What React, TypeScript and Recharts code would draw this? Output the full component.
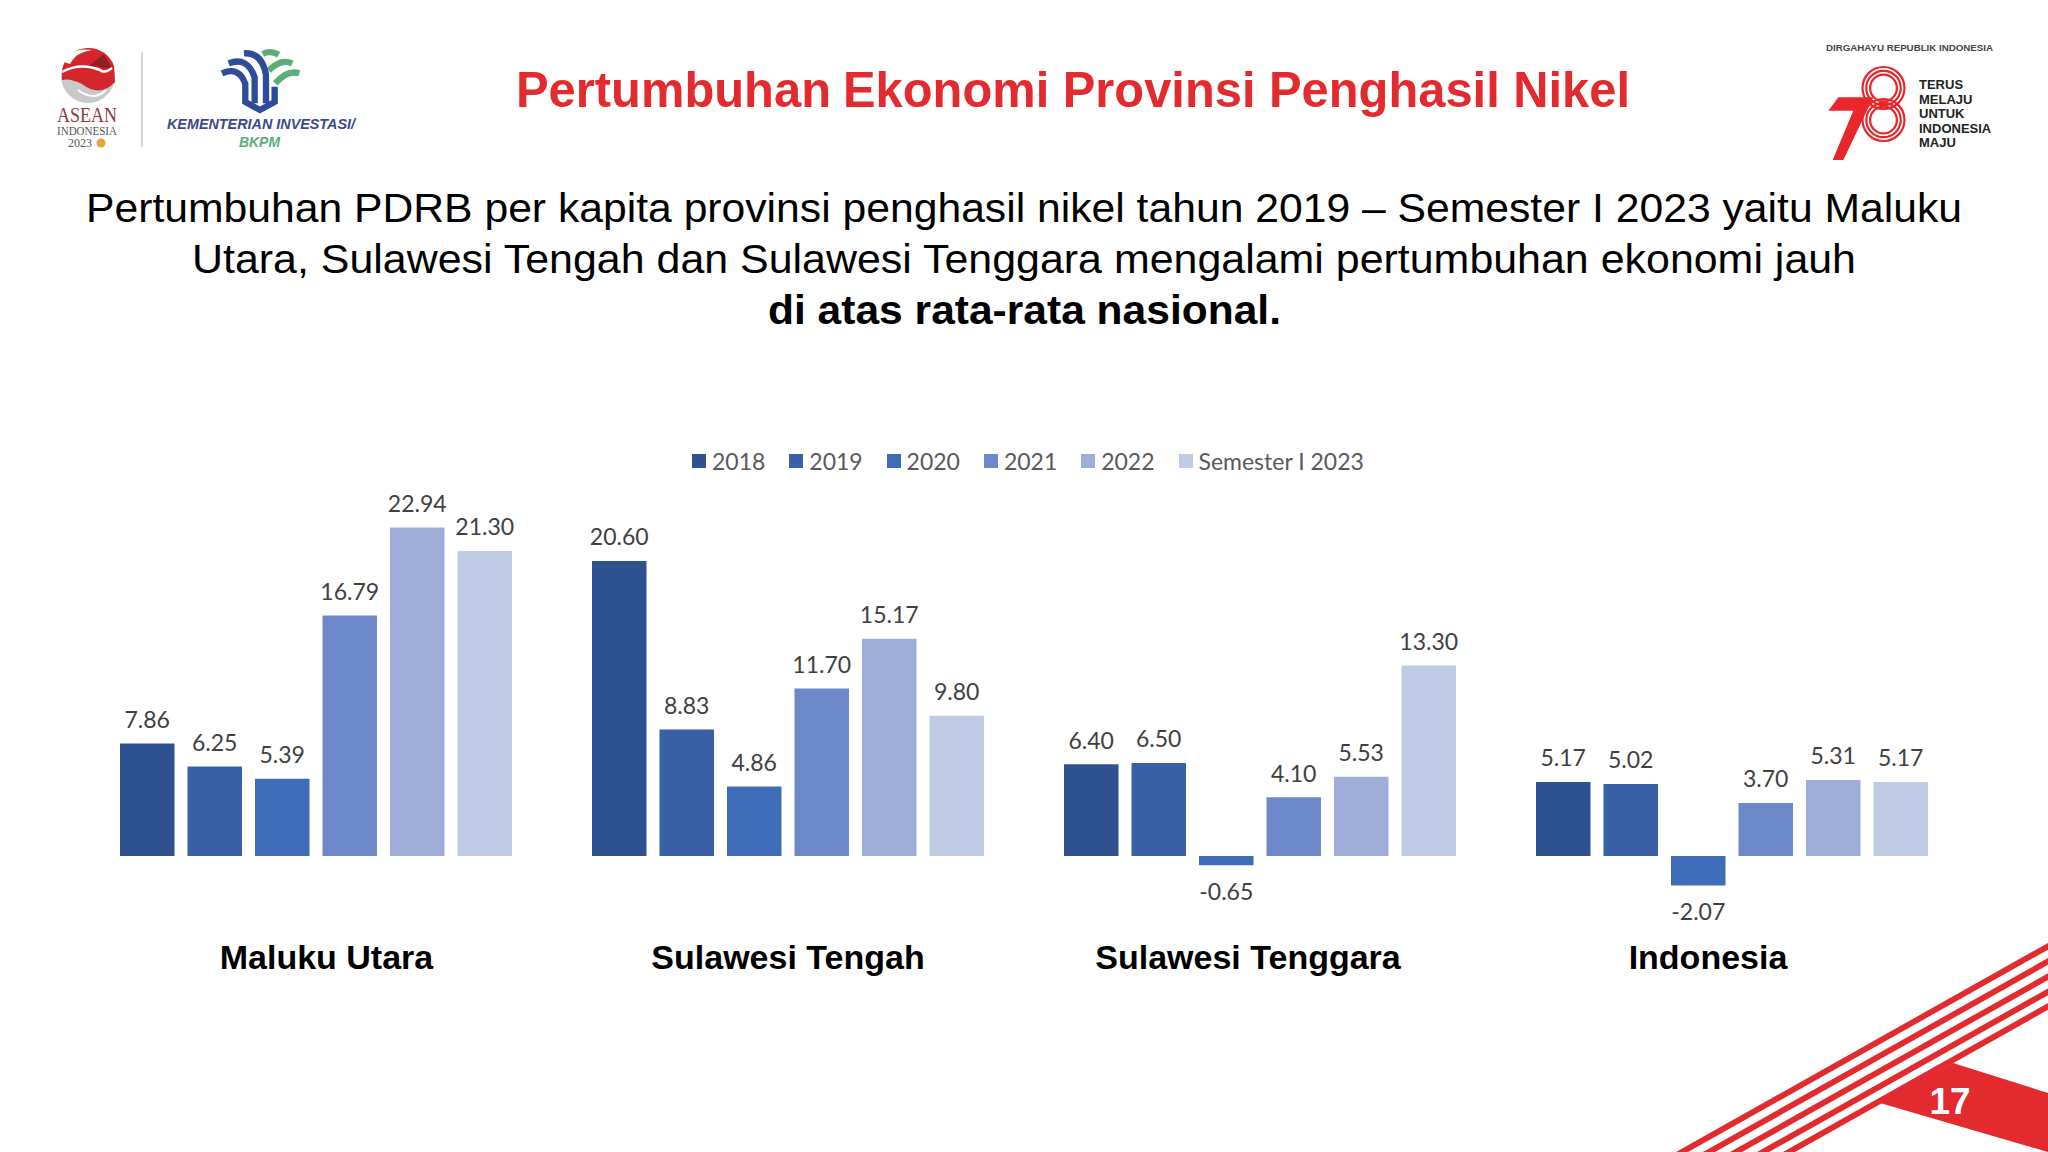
import React from "react";
import { BarChart, Bar, XAxis, YAxis, Legend, LabelList } from "recharts";

const categories = ["Maluku Utara", "Sulawesi Tengah", "Sulawesi Tenggara", "Indonesia"];
const seriesNames = ["2018", "2019", "2020", "2021", "2022", "Semester I 2023"];
const values2018 = [7.86, 20.6, 6.4, 5.17];
const values2019 = [6.25, 8.83, 6.5, 5.02];
const values2020 = [5.39, 4.86, -0.65, -2.07];
const values2021 = [16.79, 11.7, 4.1, 3.7];
const values2022 = [22.94, 15.17, 5.53, 5.31];
const valuesSem1 = [21.3, 9.8, 13.3, 5.17];
const seriesValues = [values2018, values2019, values2020, values2021, values2022, valuesSem1];
const seriesColors = ["#2E5290", "#3A60A8", "#3F6CB9", "#6C88C9", "#9EAED8", "#C0CBE5"];
const labelShift = [10.5, 0, -12, -24];

const data = categories.map((c, i) => {
  const row: Record<string, any> = { category: c };
  seriesNames.forEach((s, k) => (row[s] = seriesValues[k][i]));
  return row;
});

const ARIAL = "'Liberation Sans', Arial, sans-serif";
const CALIBRI = "Lato, 'Open Sans', sans-serif";
const RED = "#E32A2E";

const CategoryTick = (props: any) => {
  const { x, y, payload, index } = props;
  return (
    <text x={x + labelShift[index]} y={y + 19} textAnchor="middle" fontFamily={ARIAL} fontWeight={700} fontSize={34} fill="#000">
      {payload.value}
    </text>
  );
};

const LegendContent = (props: any) => (
  <div style={{ position: "relative", height: 26, width: 700 }}>
    {(props.payload || []).map((p: any, i: number) => (
      <div key={p.value} style={{ position: "absolute", left: i * 97.3, top: 0, display: "flex", alignItems: "center", height: 26, whiteSpace: "nowrap" }}>
        <span style={{ display: "inline-block", width: 14, height: 14, background: p.color, marginRight: 6 }} />
        <span style={{ fontFamily: CALIBRI, fontSize: 23, color: "#595959" }}>{p.value}</span>
      </div>
    ))}
  </div>
);

const Stripes = () => {
  const starts = [1676, 1703, 1730, 1757, 1783];
  const w = 12;
  const rise = 0.562;
  return (
    <g fill={RED}>
      {starts.map((x0) => {
        const y0 = 1152 - (2048 - x0) * rise;
        const y1 = 1152 - (2048 - x0 - w) * rise;
        return <polygon key={x0} points={`${x0},1152 ${x0 + w},1152 2048,${y1} 2048,${y0}`} />;
      })}
      <polygon points="1953,1063 2048,1093 2048,1152 1880,1103" />
    </g>
  );
};

const Decor = () => (
  <svg width={2048} height={1152} style={{ position: "absolute", left: 0, top: 0 }}>
    {/* ASEAN logo */}
    <circle cx={88} cy={76} r={27} fill="#C9C9C9" />
    <path d="M62 70 A27 27 0 0 1 114 66 L115 82 Q100 98 82 84 Q70 78 62 80 Z" fill="#D5262E" />
    <path d="M64 62 Q72 47 92 50 Q76 52 70 64 Z" fill="#fff" />
    <path d="M84 70 L96 60 L104 54 L113 70 L96 66 Z" fill="#8E1F24" />
    <path d="M62 72 Q80 62 100 70 Q104 74 112 68" stroke="#fff" strokeWidth={2.5} fill="none" />
    <path d="M78 90 Q94 102 106 90" stroke="#fff" strokeWidth={2} fill="none" />
    <text x={87} y={122} textAnchor="middle" fontFamily="'Liberation Serif', serif" fontSize={20} fill="#8E3A44" textLength={60} lengthAdjust="spacingAndGlyphs">ASEAN</text>
    <text x={87} y={135} textAnchor="middle" fontFamily="'Liberation Serif', serif" fontSize={12} fill="#555" textLength={60} lengthAdjust="spacingAndGlyphs">INDONESIA</text>
    <text x={80} y={147} textAnchor="middle" fontFamily="'Liberation Serif', serif" fontSize={12} fill="#555">2023</text>
    <circle cx={101} cy={143} r={4.5} fill="#E8A33A" />
    <line x1={142} y1={52} x2={142} y2={147} stroke="#C8C8C8" strokeWidth={1.5} />

    {/* Kementerian logo */}
    <g transform="translate(40,40) scale(0.3333)" fill="none" strokeWidth={19}>
      <path d="M668 42 Q692 30 716 44" stroke="#5BAE78" />
      <path d="M686 92 Q722 55 757 70" stroke="#5BAE78" />
      <path d="M706 130 Q742 88 778 100" stroke="#5BAE78" />
      <path d="M546 100 Q598 78 616 132 L616 186 L660 210 L704 186 L704 140" stroke="#2D4C9A" />
      <path d="M566 70 Q622 48 644 112 L644 190" stroke="#2D4C9A" />
      <path d="M612 40 Q666 36 678 104 L678 190" stroke="#2D4C9A" />
    </g>
    <text x={167} y={129} fontFamily={ARIAL} fontWeight={700} fontStyle="italic" fontSize={15.5} fill="#3A4A8C" textLength={188} lengthAdjust="spacingAndGlyphs">KEMENTERIAN INVESTASI/</text>
    <text x={239} y={147} fontFamily={ARIAL} fontWeight={700} fontStyle="italic" fontSize={15.5} fill="#5BAE78" textLength={41} lengthAdjust="spacingAndGlyphs">BKPM</text>

    {/* 78 logo */}
    <text x={1826} y={51} fontFamily={ARIAL} fontWeight={700} fontSize={9} fill="#444" textLength={167} lengthAdjust="spacingAndGlyphs">DIRGAHAYU REPUBLIK INDONESIA</text>
    <g transform="translate(1810,35) scale(0.3333)">
      <polygon points="85,187 190,187 100,375 68,375 130,227 55,227" fill="#E8262B" />
    </g>
    {[88, 120].map((cy) => (
      <g key={cy} fill="none" stroke="#E8262B" strokeWidth={2.2}>
        <circle cx={1883.5} cy={cy} r={21} />
        <circle cx={1883.5} cy={cy} r={17.2} />
        <circle cx={1883.5} cy={cy} r={13.4} />
      </g>
    ))}
    {["TERUS", "MELAJU", "UNTUK", "INDONESIA", "MAJU"].map((t, i) => (
      <text key={t} x={1919} y={[89, 104, 118.3, 132.7, 147][i]} fontFamily={ARIAL} fontWeight={700} fontSize={13} fill="#222">{t}</text>
    ))}

    {/* Title and subtitle */}
    <text x={516} y={106.5} fontFamily={ARIAL} fontWeight={700} fontSize={50} fill={RED} textLength={315} lengthAdjust="spacingAndGlyphs">Pertumbuhan</text>
    <text x={843} y={106.5} fontFamily={ARIAL} fontWeight={700} fontSize={50} fill={RED} textLength={787} lengthAdjust="spacingAndGlyphs">Ekonomi Provinsi Penghasil Nikel</text>
    <text x={86} y={222} fontFamily={ARIAL} fontSize={41} fill="#000" textLength={1876} lengthAdjust="spacingAndGlyphs">Pertumbuhan PDRB per kapita provinsi penghasil nikel tahun 2019 – Semester I 2023 yaitu Maluku</text>
    <text x={192} y={273} fontFamily={ARIAL} fontSize={41} fill="#000" textLength={1664} lengthAdjust="spacingAndGlyphs">Utara, Sulawesi Tengah dan Sulawesi Tenggara mengalami pertumbuhan ekonomi jauh</text>
    <text x={768} y={324} fontFamily={ARIAL} fontWeight={700} fontSize={41} fill="#000" textLength={513} lengthAdjust="spacingAndGlyphs">di atas rata-rata nasional.</text>

    <Stripes />
    <text x={1950} y={1114} textAnchor="middle" fontFamily={ARIAL} fontWeight={700} fontSize={37} fill="#fff">17</text>
  </svg>
);

export default function App() {
  return (
    <div style={{ position: "absolute", left: 0, top: 0, width: 2048, height: 1152, background: "#fff", overflow: "hidden" }}>
      <Decor />
      <div style={{ position: "absolute", left: 0, top: 0 }}>
        <BarChart
          width={2048}
          height={1152}
          data={data}
          margin={{ top: 426.4, right: 80, bottom: 170.1, left: 80 }}
          barSize={54.5}
          barGap={13}
        >
          <XAxis dataKey="category" height={40} axisLine={false} tickLine={false} interval={0} tick={<CategoryTick />} />
          <YAxis hide domain={[-6, 30]} allowDataOverflow />
          <Legend
            layout="horizontal"
            verticalAlign="middle"
            align="center"
            content={<LegendContent />}
            wrapperStyle={{ position: "absolute", left: 692, top: 447.5, width: 700, height: 26 }}
          />
          {seriesNames.map((s, k) => (
            <Bar key={s} dataKey={s} fill={seriesColors[k]} isAnimationActive={false}>
              <LabelList
                dataKey={s}
                position="top"
                offset={17}
                formatter={(v: any) => Number(v).toFixed(2)}
                style={{ fontFamily: CALIBRI, fontSize: 23, fill: "#404040", transform: "translateY(1.3px)" }}
              />
            </Bar>
          ))}
        </BarChart>
      </div>
    </div>
  );
}
